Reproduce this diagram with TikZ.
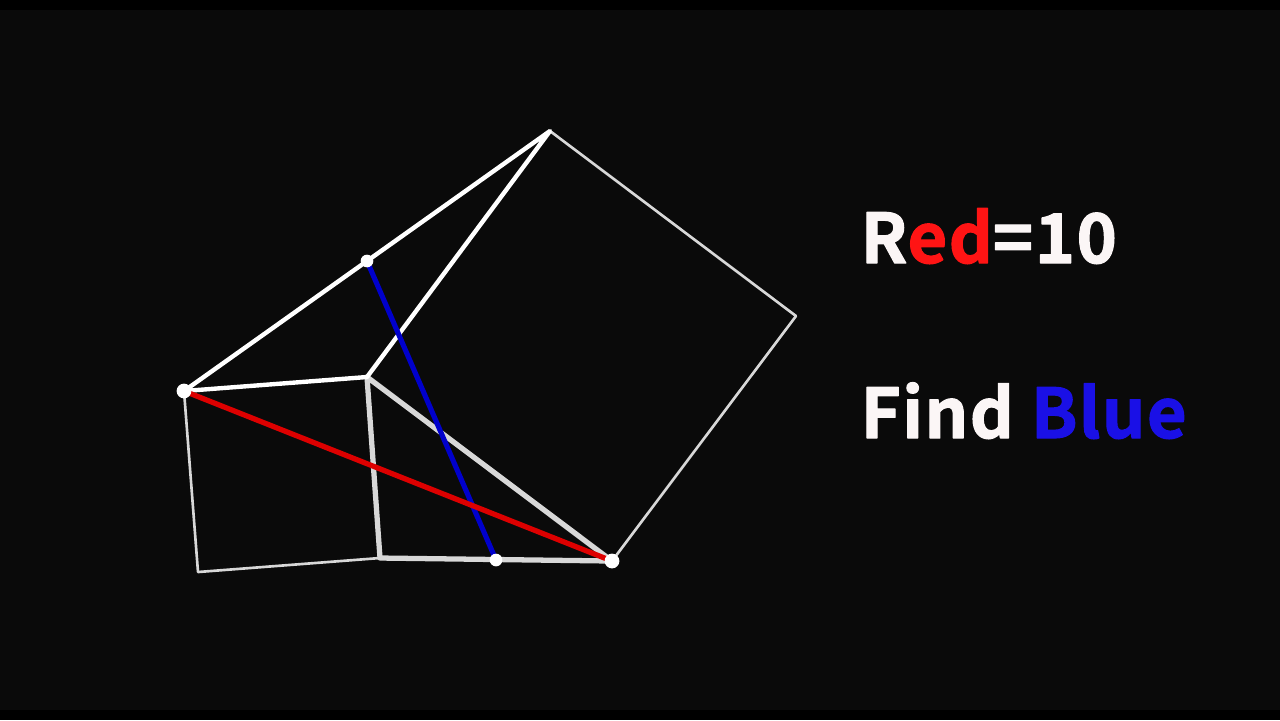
\documentclass[tikz,border=0pt]{standalone}
\usepackage{fontspec}
\setmainfont{Noto Sans CJK SC}[BoldFont={Noto Sans CJK SC Bold},BoldFeatures={FakeBold=1.6,LetterSpace=2}]
\definecolor{bgcol}{HTML}{0A0A0A}
\definecolor{redline}{HTML}{DD0000}
\definecolor{blueline}{HTML}{0000CC}
\definecolor{redtext}{HTML}{FF1414}
\definecolor{bluetext}{HTML}{1A10E6}
\definecolor{whitetext}{HTML}{FBF6F6}
\definecolor{paleline}{HTML}{D8D8D8}
\begin{document}
\begin{tikzpicture}[x=0.01cm,y=-0.01cm,line join=round,
  thinedge/.style={draw,color=paleline,line width=0.75pt},
  whiteedge/.style={draw,color=white,line width=1.25pt},
  greyedge/.style={draw,color=paleline,line width=1.5pt},
  dot/.style={draw=none,fill=white,circle,inner sep=0pt,minimum size=#1},
  dot/.default=3pt,
  caption/.style={anchor=base west,inner sep=0pt,font=\bfseries\fontsize{19.5}{24}\selectfont,text=whitetext}]
\fill[black] (0,0) rectangle (1280,720);
\fill[bgcol] (0,10) rectangle (1280,710);
\useasboundingbox (0,0) rectangle (1280,720);

\coordinate (a) at (184,391);
\coordinate (b) at (367,377);
\coordinate (f) at (380,558);
\coordinate (g) at (198,572);
\coordinate (c) at (550,131);
\coordinate (d) at (796,316);
\coordinate (e) at (612,561);
\coordinate (m) at (367,261);
\coordinate (n) at (496,560);

\path[thinedge] (a) -- (g) -- (f);
\path[thinedge] (c) -- (d) -- (e);
\path[greyedge] (b) -- (f) -- (e) -- cycle;
\path[whiteedge] (a) -- (c) -- (b) -- cycle;

\path[draw,color=blueline,line width=1.45pt] (m) -- (n);
\path[draw,color=redline,line width=1.5pt] (a) -- (e);

\node[dot=4.2pt] (adot) at (a) {};
\node[dot=4.2pt] (edot) at (e) {};
\node[dot=3.6pt] (mdot) at (m) {};
\node[dot=3.6pt] (ndot) at (n) {};

\node[caption] (given) at (860,263) {R\textcolor{redtext}{ed}=10};
\node[caption] (task) at (860,438) {Find \textcolor{bluetext}{Blue}};
\end{tikzpicture}
\end{document}
